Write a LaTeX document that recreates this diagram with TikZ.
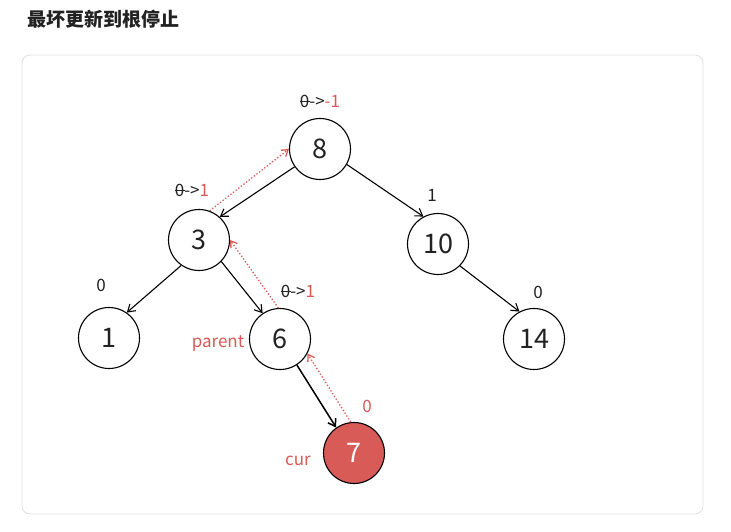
\documentclass[tikz,border=0pt]{standalone}
\usepackage{fontspec}
\setmainfont{Noto Sans CJK SC}
\usetikzlibrary{arrows.meta}
\definecolor{redc}{HTML}{D95B57}
\definecolor{txt}{HTML}{222222}
\newcommand\zst{\makebox[0pt][l]{\raisebox{0.33em}{\rule{0.6em}{0.7pt}}}0}
\begin{document}
\begin{tikzpicture}[x=1pt,y=-1pt,
  tn/.style={circle,draw=black,line width=1.1pt,minimum size=61pt,inner sep=0pt,font=\fontsize{27}{30}\selectfont,text=txt},
  lb/.style={font=\fontsize{17}{19}\selectfont,text=txt},
  rl/.style={font=\fontsize{17}{19}\selectfont,text=redc},
  ed/.style={-{Straight Barb[length=7pt,width=9pt]},line width=1.1pt},
  dt/.style={-{Straight Barb[length=6pt,width=8pt]},dotted,draw=redc,line width=1.3pt}]
\useasboundingbox (0,0) rectangle (731,532);
\fill[white] (0,0) rectangle (731,532);
\node[anchor=west,font=\fontsize{19}{21}\selectfont\bfseries,text=txt] (title) at (24,19) {最坏更新到根停止};
\draw[rounded corners=8pt,draw=black!12,line width=0.8pt] (22,55) rectangle (703,514);
\node[tn] (n8) at (320,149) {8};
\node[tn] (n3) at (199,240) {3};
\node[tn] (n10) at (438,244) {10};
\node[tn] (n1) at (109,338) {1};
\node[tn] (n6) at (280,339) {6};
\node[tn] (n14) at (534,339) {14};
\node[tn,fill=redc,text=white] (n7) at (354,453) {7};
\draw[ed] (n8.215) -- (n3.48);
\draw[ed] (n8.-30) -- (n10.118);
\draw[ed] (n3.235) -- (n1.55);
\draw[ed] (n3.-44) -- (n6.124);
\draw[ed] (n10.-45) -- (n14.118);
\draw[ed,line width=1.5pt] (n6.-57) -- (n7.125);
\draw[dt] (n3.70) -- (n8.180);
\draw[dt] (n6.93) -- (n3.0);
\draw[dt] (n7.96) -- (n6.-28);
\node[lb] (l8) at (320,101) {\zst->\textcolor{redc}{-1}};
\node[lb] (l3) at (192,190) {\zst->\textcolor{redc}{1}};
\node[lb] (l10) at (432,195) {1};
\node[lb] (l1) at (101,285) {0};
\node[lb] (l6) at (298,291) {\zst->\textcolor{redc}{1}};
\node[lb] (l14) at (538,292) {0};
\node[rl] (lp) at (218,344) {parent};
\node[rl] (l7) at (367,406) {0};
\node[rl] (lc) at (298,461) {cur};
\end{tikzpicture}
\end{document}
